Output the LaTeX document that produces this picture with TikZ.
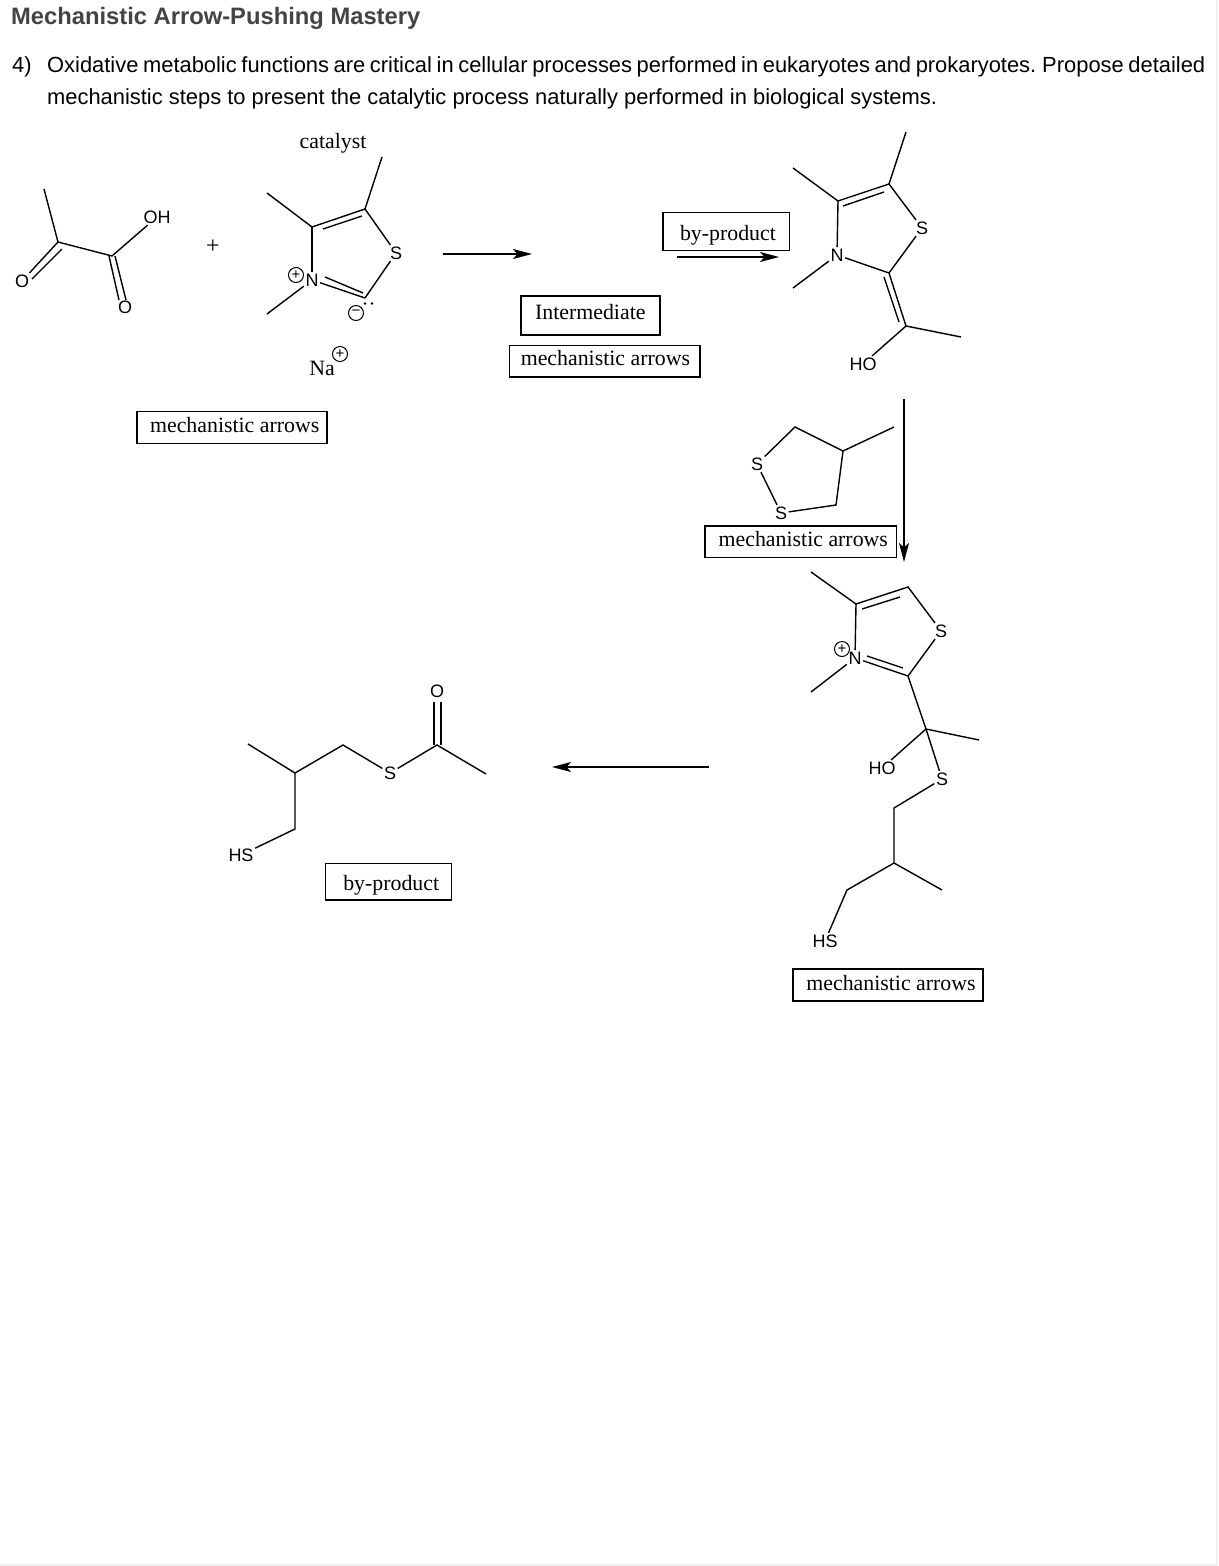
\documentclass[tikz,border=0pt]{standalone}
\usepackage{fontspec}
\setmainfont{Liberation Serif}
\setsansfont{Liberation Sans}
\usetikzlibrary{arrows.meta}
\definecolor{titlegray}{HTML}{444444}
\definecolor{edgegray}{HTML}{F0F0F0}
\newcommand{\boxtext}[3]{\raisebox{#2pt}{\kern#1pt #3}}
\tikzset{
  bond/.style={line width=1.4pt,black},
  rxn/.style={line width=1.4pt,black,-{Stealth[length=19pt,width=10pt,inset=4.5pt]}},
  atom/.style={font=\sffamily\fontsize{18}{18}\selectfont,inner sep=1.5pt,text=black},
  lbl/.style={font=\rmfamily\fontsize{21.85}{22}\selectfont,inner sep=0pt,text=black},
  boxed/.style={draw,line width=1.5pt,font=\rmfamily\fontsize{21.85}{22}\selectfont,inner sep=0pt,anchor=center,text=black,text height=16pt,text depth=5pt},
  chg/.style={draw,circle,line width=1pt,minimum size=15pt,inner sep=0pt,font=\sffamily\fontsize{15}{15}\selectfont},
  head/.style={font=\sffamily\fontsize{21.9}{26}\selectfont,anchor=base west,inner sep=0pt,text=black},
}
\begin{document}
\begin{tikzpicture}[x=1pt,y=-1pt]
\useasboundingbox (0,0) rectangle (1218,1566);
\fill[white] (0,0) rectangle (1218,1566);
\fill[edgegray] (1216,0) rectangle (1218,1566);
\fill[edgegray] (0,1564) rectangle (1218,1566);

% heading
\node[head,font=\sffamily\bfseries\fontsize{23.75}{28}\selectfont,text=titlegray] (title) at (11,24) {Mechanistic Arrow-Pushing Mastery};
\node[head] (num) at (12,72) {4)};
\node[head] (l1) at (47,72) {\spaceskip=4.63pt\xspaceskip=6pt Oxidative metabolic functions are critical in cellular processes performed in eukaryotes and prokaryotes. Propose detailed};
\node[head] (l2) at (47,104) {mechanistic steps to present the catalytic process naturally performed in biological systems.};

% pyruvic acid
\coordinate (pm) at (44,189);
\coordinate (pa) at (58,242);
\coordinate (pb) at (112,256);
\node[atom] (pO1) at (22,281) {O};
\node[atom] (pO2) at (125,307) {O};
\node[atom] (pOH) at (157,217) {OH};
\coordinate (pa2) at (62,249);
\coordinate (pO1b) at (32,279);
\coordinate (pb1) at (109,256);
\coordinate (pb1e) at (119,300);
\coordinate (pb2) at (115,256);
\coordinate (pb2e) at (126,300);
\draw[bond] (pm) -- (pa) -- (pb) -- (pOH);
\draw[bond] (pa) -- (pO1);
\draw[bond] (pa2) -- (pO1b);
\draw[bond] (pb1) -- (pb1e);
\draw[bond] (pb2) -- (pb2e);
\node[font=\rmfamily\fontsize{24}{24}\selectfont,inner sep=0pt] (plus) at (213,247) {+};

% catalyst
\node[lbl] (cat) at (333,143) {catalyst};
\coordinate (c4) at (312,227);
\coordinate (c5) at (365,209);
\coordinate (c2) at (365,298);
\node[atom] (cS) at (396,253) {S};
\node[atom] (cN) at (312,280) {N};
\coordinate (cm4) at (267,193);
\coordinate (cm5) at (382,157);
\coordinate (cmN) at (267,314);
\coordinate (ci1) at (323,229);
\coordinate (ci2) at (362,216);
\coordinate (cd1) at (325,277);
\coordinate (cd2) at (363,293);
\draw[bond] (cm4) -- (c4) -- (c5) -- (cS) -- (c2);
\draw[bond] (c5) -- (cm5);
\draw[bond] (c4) -- (cN);
\draw[bond] (cN) -- (cmN);
\draw[bond] (cN) -- (c2);
\draw[bond] (ci1) -- (ci2);
\draw[bond] (cd1) -- (cd2);
\node[chg] (cNp) at (296,275) {+};
\node[chg] (cCm) at (356,313) {−};
\fill (365,303.5) circle (1.3pt) (372,303.5) circle (1.3pt);
\node[lbl] (na) at (322,368) {Na};
\node[chg] (nap) at (340,354) {+};
\node[boxed,minimum width=190pt,minimum height=32pt] (bx1) at (232,427.5) {\boxtext{5.4}{0.3}{mechanistic arrows}};

% arrow 1
\coordinate (a1s) at (443,254);
\coordinate (a1e) at (532,254);
\draw[rxn] (a1s) -- (a1e);
\node[boxed,minimum width=139pt,minimum height=39pt] (bxI) at (590.3,315.5) {\boxtext{0}{1.7}{Intermediate}};
\node[boxed,minimum width=190.5pt,minimum height=31.5pt] (bx2) at (604.7,361) {\boxtext{1.4}{1.5}{mechanistic arrows}};
\node[boxed,minimum width=126.5pt,minimum height=38pt] (bxB1) at (726,231.7) {\boxtext{4}{-3.5}{by-product}};
\coordinate (a2s) at (677,257);
\coordinate (a2e) at (779,257);
\draw[rxn] (a2s) -- (a2e);

% enamine
\coordinate (e4) at (838,201);
\coordinate (e5) at (889,184);
\coordinate (e2) at (889,273);
\coordinate (ex) at (906,326);
\node[atom] (eS) at (922,228) {S};
\node[atom] (eN) at (837,255) {N};
\node[atom] (eHO) at (863,364) {HO};
\coordinate (em4) at (793,168);
\coordinate (em5) at (906,132);
\coordinate (emN) at (793,288);
\coordinate (emx) at (961,337);
\coordinate (ei1) at (843,206);
\coordinate (ei2) at (884,192);
\coordinate (ed1) at (884,277);
\coordinate (ed2) at (899,322);
\draw[bond] (em4) -- (e4) -- (e5) -- (eS) -- (e2) -- (ex) -- (emx);
\draw[bond] (e5) -- (em5);
\draw[bond] (e4) -- (eN);
\draw[bond] (eN) -- (emN);
\draw[bond] (eN) -- (e2);
\draw[bond] (ex) -- (eHO);
\draw[bond] (ei1) -- (ei2);
\draw[bond] (ed1) -- (ed2);

% down arrow
\coordinate (a3s) at (904,399);
\coordinate (a3e) at (904,562);
\draw[rxn] (a3s) -- (a3e);

% dithiolane
\node[atom] (dS1) at (757,464) {S};
\node[atom] (dS2) at (781,513) {S};
\coordinate (d1) at (795,427);
\coordinate (d2) at (843,451);
\coordinate (d3) at (836,505);
\coordinate (dm) at (894,427);
\draw[bond] (dS1) -- (d1) -- (d2) -- (d3) -- (dS2);
\draw[bond] (dS1) -- (dS2);
\draw[bond] (d2) -- (dm);
\node[boxed,minimum width=191.5pt,minimum height=31.5pt] (bx3) at (800.8,541.8) {\boxtext{5}{1.2}{mechanistic arrows}};

% adduct
\coordinate (t4) at (856,604);
\coordinate (t5) at (908,587);
\coordinate (t2) at (908,676);
\coordinate (tq) at (926,729);
\node[atom] (tS) at (941,631) {S};
\node[atom] (tN) at (855,658) {N};
\node[atom] (tHO) at (882,768) {HO};
\node[atom] (tS2) at (942,779) {S};
\node[atom] (tHS) at (825,941) {HS};
\coordinate (tm4) at (811,572);
\coordinate (tmN) at (811,692);
\coordinate (tmq) at (979,740);
\coordinate (tc1) at (894,808);
\coordinate (tc2) at (894,863);
\coordinate (tm2) at (942,890);
\coordinate (tc3) at (847,890);
\coordinate (ti1) at (862,609);
\coordinate (ti2) at (900,597);
\coordinate (td1) at (867,656);
\coordinate (td2) at (903,668);
\draw[bond] (tm4) -- (t4) -- (t5) -- (tS) -- (t2) -- (tq) -- (tmq);
\draw[bond] (t4) -- (tN);
\draw[bond] (tN) -- (tmN);
\draw[bond] (tN) -- (t2);
\draw[bond] (tq) -- (tHO);
\draw[bond] (tq) -- (tS2);
\draw[bond] (tS2) -- (tc1) -- (tc2) -- (tm2);
\draw[bond] (tc2) -- (tc3) -- (tHS);
\draw[bond] (ti1) -- (ti2);
\draw[bond] (td1) -- (td2);
\node[chg] (tNp) at (842,649) {+};
\node[boxed,minimum width=190pt,minimum height=32pt] (bx4) at (888,985) {\boxtext{6}{0.3}{mechanistic arrows}};

% left arrow
\coordinate (a4s) at (709,767);
\coordinate (a4e) at (552,767);
\draw[rxn] (a4s) -- (a4e);

% thioester by-product
\node[atom] (bHS) at (241,855) {HS};
\coordinate (b1) at (295,829);
\coordinate (b2) at (295,773);
\coordinate (bm) at (248,744);
\coordinate (b3) at (343,745);
\node[atom] (bS) at (390,773) {S};
\coordinate (bc) at (437,745);
\node[atom] (bO) at (437,691) {O};
\coordinate (bm2) at (486,774);
\coordinate (bd1) at (434,745);
\coordinate (bd1e) at (434,702);
\coordinate (bd2) at (441,745);
\coordinate (bd2e) at (441,702);
\draw[bond] (bHS) -- (b1) -- (b2) -- (bm);
\draw[bond] (b2) -- (b3) -- (bS) -- (bc) -- (bm2);
\draw[bond] (bd1) -- (bd1e);
\draw[bond] (bd2) -- (bd2e);
\node[boxed,minimum width=126pt,minimum height=36.7pt] (bxB2) at (388.7,881.7) {\boxtext{5}{-2.8}{by-product}};
\end{tikzpicture}
\end{document}
